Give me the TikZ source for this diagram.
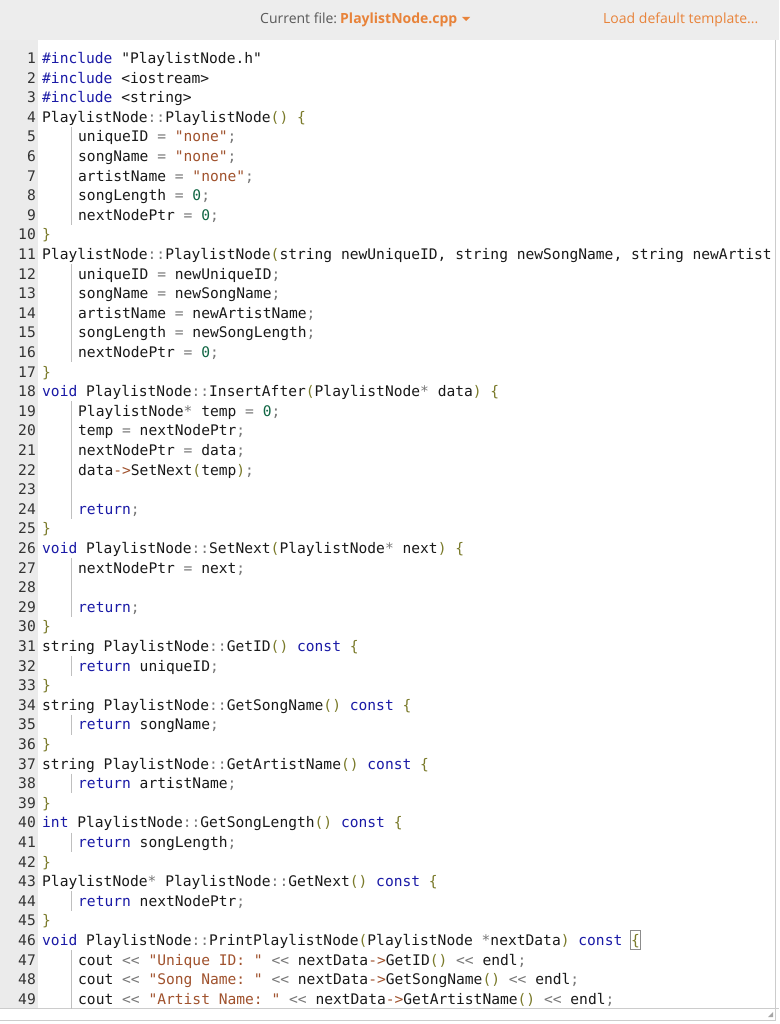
\documentclass[tikz,border=0pt]{standalone}
\usepackage{fontspec}
\setmonofont{DejaVu Sans Mono}
\setsansfont{Open Sans}
\definecolor{kwc}{HTML}{1A1AA6}
\definecolor{stc}{HTML}{A0522D}
\definecolor{nmc}{HTML}{116644}
\definecolor{pnc}{HTML}{7A7A2A}
\definecolor{opc}{HTML}{777777}
\definecolor{orangec}{HTML}{E8833A}
\definecolor{gutc}{HTML}{EBEBEB}
\newcommand\kw[1]{\textcolor{kwc}{#1}}
\newcommand\st[1]{\textcolor{stc}{#1}}
\newcommand\nm[1]{\textcolor{nmc}{#1}}
\newcommand\pn[1]{\textcolor{pnc}{#1}}
\newcommand\op[1]{\textcolor{opc}{#1}}
\begin{document}
\begin{tikzpicture}[x=1pt,y=-1pt,
  codeline/.style={anchor=base west,inner sep=0pt,font=\ttfamily\fontsize{14.6}{19.6}\selectfont,text=black!90},
  lnum/.style={anchor=base east,inner sep=0pt,font=\ttfamily\fontsize{14.6}{19.6}\selectfont,text=black!80},
  guide/.style={draw=black!25,line width=0.6pt},
  hdr/.style={anchor=base west,inner sep=0pt,font=\sffamily\fontsize{14}{16}\selectfont}]
\useasboundingbox (0,0) rectangle (779,1024);
\fill[white] (0,0) rectangle (779,1024);
\fill[gutc!90!white] (0,0) rectangle (779,40);
\fill[gutc] (0,40) rectangle (38,1008);
\draw[black!20] (0,1008) -- (779,1008);
\draw[black!20] (775,40) -- (775,1020) -- (0,1020);
\node[hdr,text=black!65] (cf) at (260,24) {Current file:};
\node[hdr,text=orangec,font=\sffamily\bfseries\fontsize{14}{16}\selectfont] (fn) at (340,24) {PlaylistNode.cpp};
\fill[orangec] (462,17) -- (470,17) -- (466,21) -- cycle;
\node[hdr,text=orangec] (ld) at (603,24) {Load default template...};
\fill[black!35] (768,1017) -- (773,1012) -- (773,1017) -- cycle;
\begin{scope}
\clip (0,40) rectangle (775,1008);
\foreach \i/\t/\ind in {
1/{\kw{\#include} "PlaylistNode.h"}/0,
2/{\kw{\#include} <iostream>}/0,
3/{\kw{\#include} <string>}/0,
4/{PlaylistNode\op{::}PlaylistNode\pn{()} \pn{\{}}/0,
5/{uniqueID \op{=} \st{"none"}\op{;}}/1,
6/{songName \op{=} \st{"none"}\op{;}}/1,
7/{artistName \op{=} \st{"none"}\op{;}}/1,
8/{songLength \op{=} \nm{0}\op{;}}/1,
9/{nextNodePtr \op{=} \nm{0}\op{;}}/1,
10/{\pn{\}}}/0,
11/{PlaylistNode\op{::}PlaylistNode\pn{(}string newUniqueID, string newSongName, string newArtist}/0,
12/{uniqueID \op{=} newUniqueID\op{;}}/1,
13/{songName \op{=} newSongName\op{;}}/1,
14/{artistName \op{=} newArtistName\op{;}}/1,
15/{songLength \op{=} newSongLength\op{;}}/1,
16/{nextNodePtr \op{=} \nm{0}\op{;}}/1,
17/{\pn{\}}}/0,
18/{\kw{void} PlaylistNode\op{::}InsertAfter\pn{(}PlaylistNode\op{*} data\pn{)} \pn{\{}}/0,
19/{PlaylistNode\op{*} temp \op{=} \nm{0}\op{;}}/1,
20/{temp \op{=} nextNodePtr\op{;}}/1,
21/{nextNodePtr \op{=} data\op{;}}/1,
22/{data\st{->}SetNext\pn{(}temp\pn{)}\op{;}}/1,
23/{}/1,
24/{\kw{return}\op{;}}/1,
25/{\pn{\}}}/0,
26/{\kw{void} PlaylistNode\op{::}SetNext\pn{(}PlaylistNode\op{*} next\pn{)} \pn{\{}}/0,
27/{nextNodePtr \op{=} next\op{;}}/1,
28/{}/1,
29/{\kw{return}\op{;}}/1,
30/{\pn{\}}}/0,
31/{string PlaylistNode\op{::}GetID\pn{()} \kw{const} \pn{\{}}/0,
32/{\kw{return} uniqueID\op{;}}/1,
33/{\pn{\}}}/0,
34/{string PlaylistNode\op{::}GetSongName\pn{()} \kw{const} \pn{\{}}/0,
35/{\kw{return} songName\op{;}}/1,
36/{\pn{\}}}/0,
37/{string PlaylistNode\op{::}GetArtistName\pn{()} \kw{const} \pn{\{}}/0,
38/{\kw{return} artistName\op{;}}/1,
39/{\pn{\}}}/0,
40/{\kw{int} PlaylistNode\op{::}GetSongLength\pn{()} \kw{const} \pn{\{}}/0,
41/{\kw{return} songLength\op{;}}/1,
42/{\pn{\}}}/0,
43/{PlaylistNode\op{*} PlaylistNode\op{::}GetNext\pn{()} \kw{const} \pn{\{}}/0,
44/{\kw{return} nextNodePtr\op{;}}/1,
45/{\pn{\}}}/0,
46/{\kw{void} PlaylistNode\op{::}PrintPlaylistNode\pn{(}PlaylistNode \op{*}nextData\pn{)} \kw{const} \pn{\{}}/0,
47/{cout \op{<<} \st{"Unique ID: "} \op{<<} nextData\st{->}GetID\pn{()} \op{<<} endl\op{;}}/1,
48/{cout \op{<<} \st{"Song Name: "} \op{<<} nextData\st{->}GetSongName\pn{()} \op{<<} endl\op{;}}/1,
49/{cout \op{<<} \st{"Artist Name: "} \op{<<} nextData\st{->}GetArtistName\pn{()} \op{<<} endl\op{;}}/1}{
  \pgfmathsetmacro\yb{63.5+(\i-1)*19.6}
  \node[lnum] (n\i) at (36,\yb) {\i};
  \ifnum\ind=1
    \draw[guide] (71,\yb-15) -- (71,\yb+4.6);
    \node[codeline] (c\i) at (78,\yb) {\t};
  \else
    \node[codeline] (c\i) at (42,\yb) {\t};
  \fi
}
\end{scope}
\draw[black!45] (c46.base east) ++(-10,-15) rectangle ++(10,19);
\end{tikzpicture}
\end{document}
